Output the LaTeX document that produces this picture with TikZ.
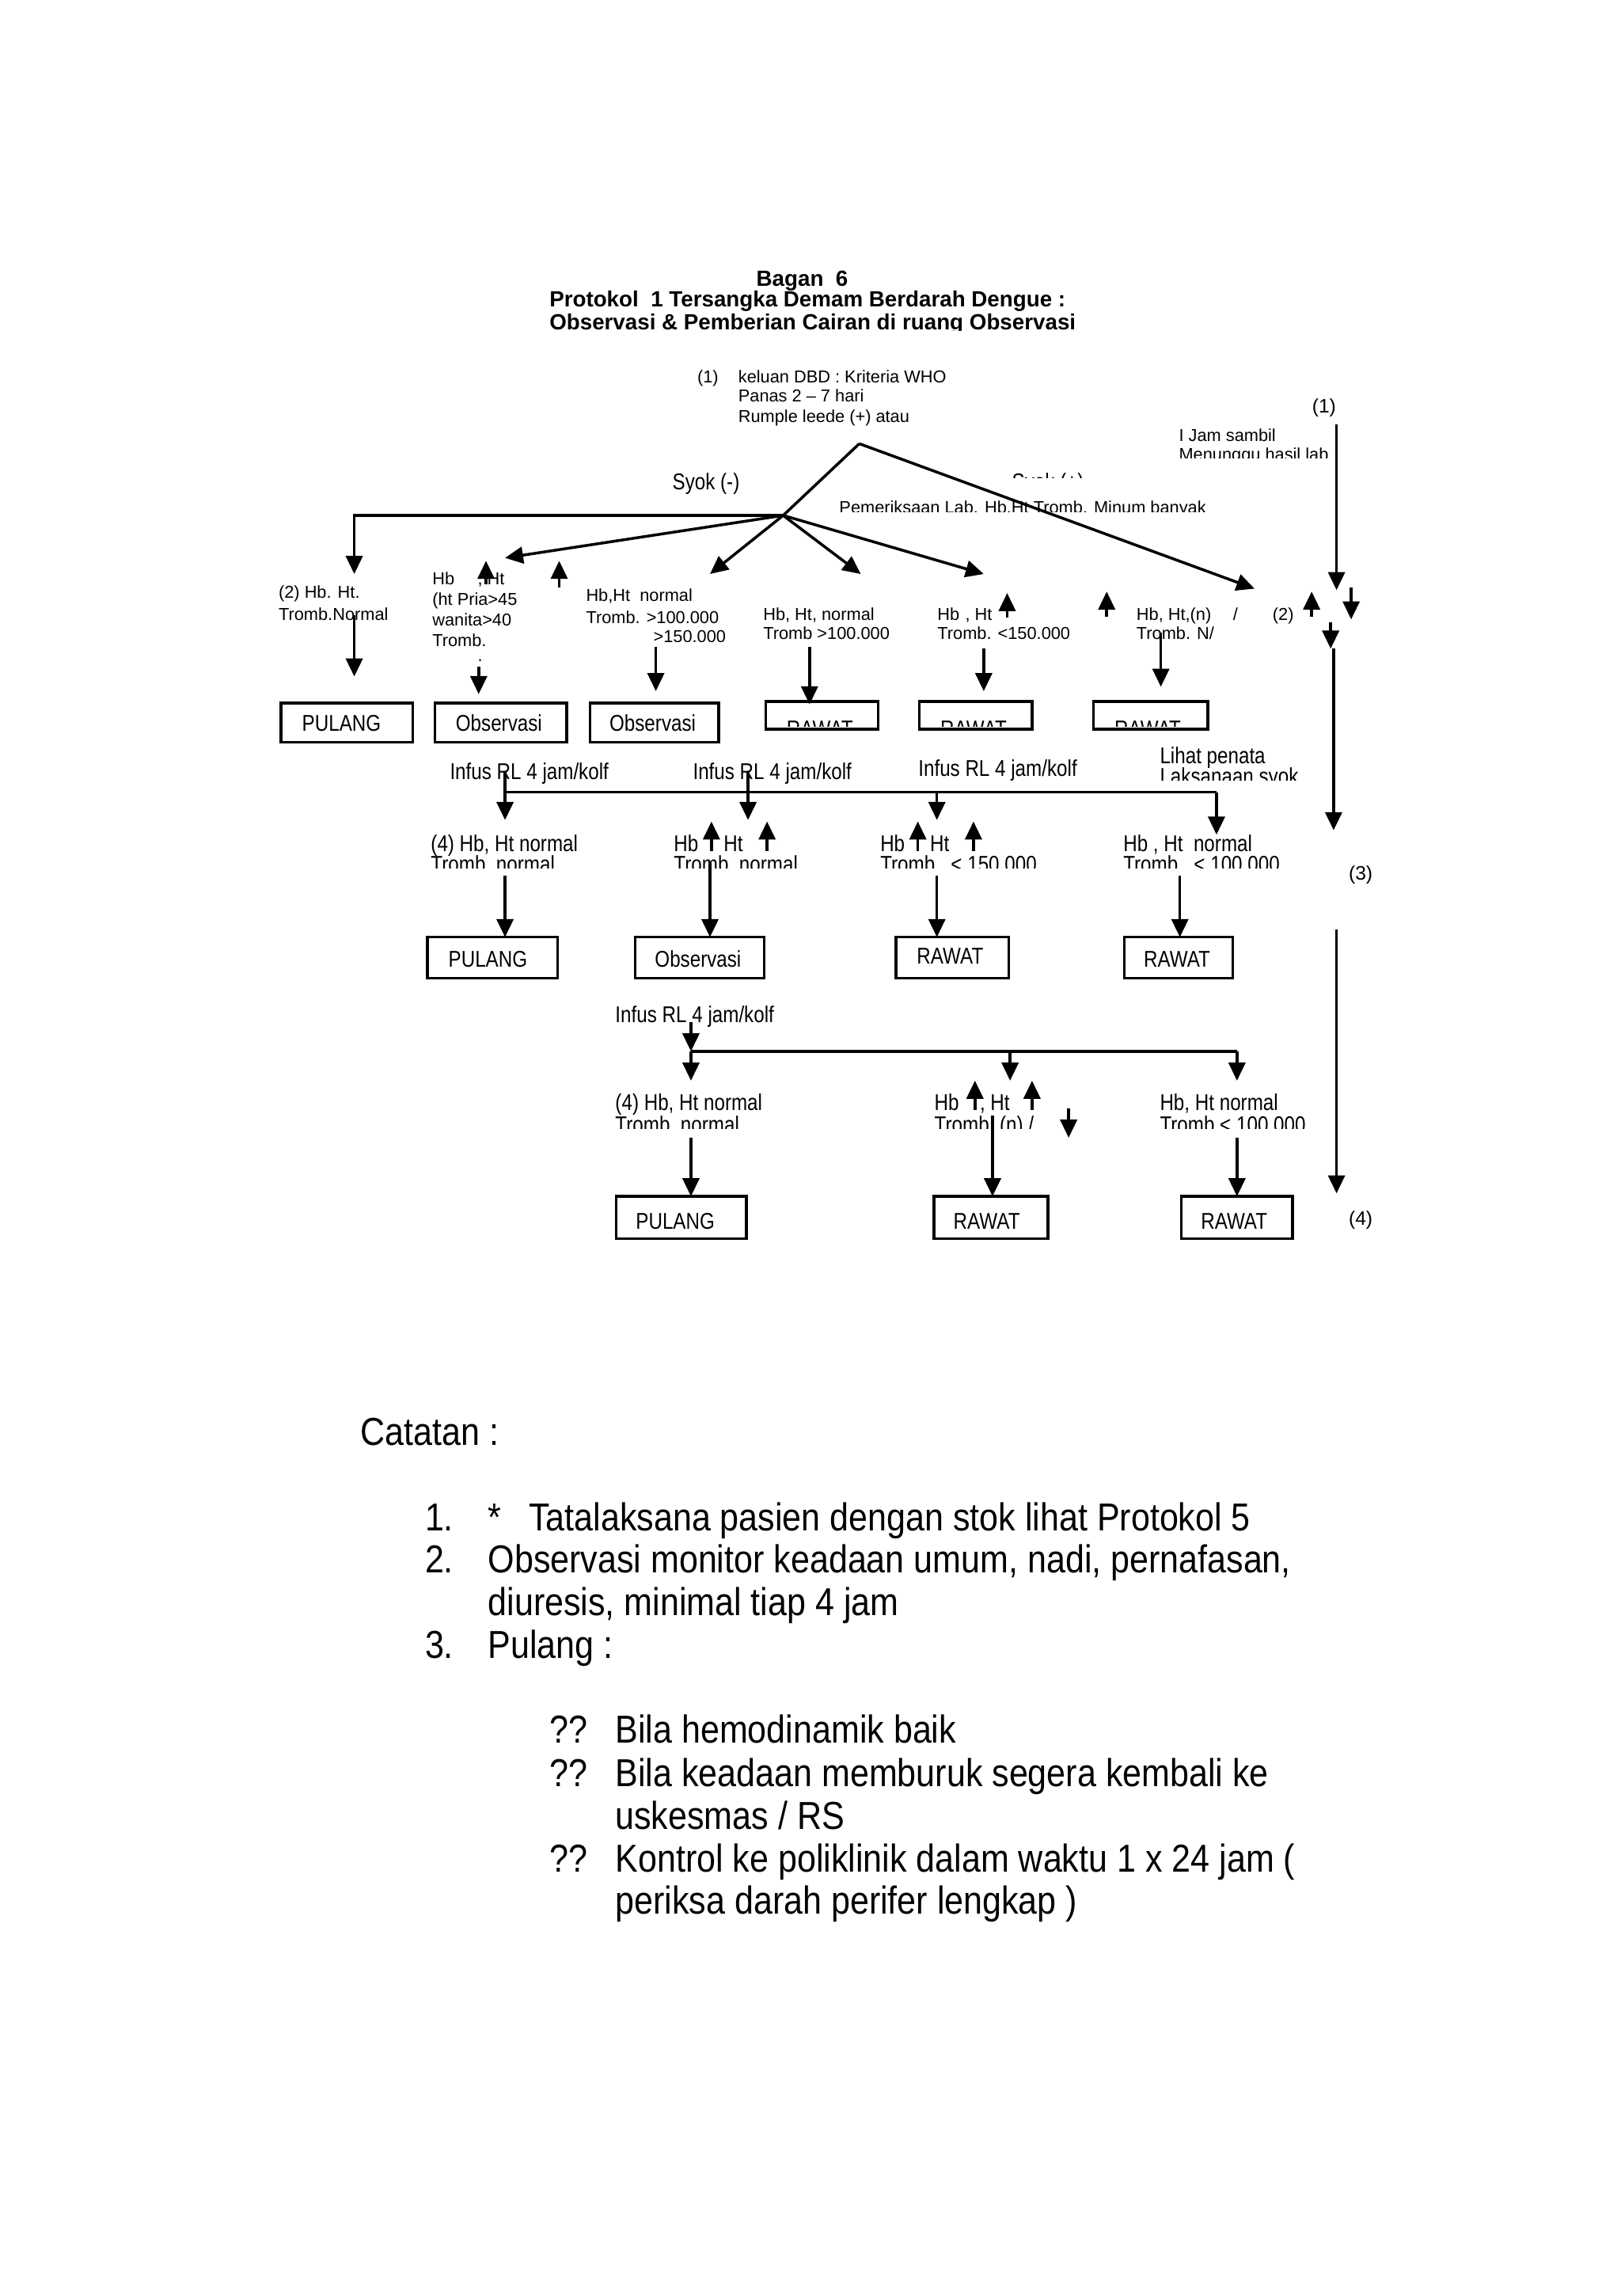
\documentclass[tikz,border=0pt]{standalone}
\usepackage{fontspec}
\setmainfont{Liberation Sans}
\newfontfamily\narrowf[FakeStretch=0.84]{Liberation Sans}
\newfontfamily\catf[FakeStretch=0.875]{Liberation Sans}
\usetikzlibrary{arrows.meta,fit}
\begin{document}
\begin{tikzpicture}[x=0.185mm,y=-0.185mm,
  ar/.style={-{Triangle[length=6.5pt,width=6pt]},line width=1pt},
  ln/.style={line width=1pt},
  bx/.style={draw,line width=1pt,inner sep=0pt},
  tt/.style={font=\bfseries\fontsize{7.9}{9}\selectfont,inner sep=0pt,yshift=-0.35mm,execute at begin node=\strut},
  sm/.style={font=\fontsize{6.2}{7}\selectfont,inner sep=0pt,anchor=west,yshift=-0.35mm,execute at begin node=\strut},
  sn/.style={font=\fontsize{7}{8}\selectfont,inner sep=0pt,anchor=west,yshift=-0.35mm,execute at begin node=\strut},
  md/.style={font=\narrowf\fontsize{8.2}{9}\selectfont,inner sep=0pt,anchor=west,yshift=-0.35mm,execute at begin node=\strut},
  ct/.style={font=\catf\fontsize{14}{16}\selectfont,inner sep=0pt,anchor=west,yshift=-0.4mm,execute at begin node=\strut}]
\useasboundingbox[fill=white] (0,0) rectangle (1107,1568);

% ---------- title ----------
\node[tt] (t1) at (548,190) {Bagan\ \ 6};
\node[tt,anchor=west] (t2) at (375,204) {Protokol\ \ 1 Tersangka Demam Berdarah Dengue :};
\begin{scope}
\clip (370,200) rectangle (740,225.5);
\node[tt,anchor=west] (t3) at (375,220) {Observasi \& Pemberian Cairan di ruang Observasi};
\end{scope}

% ---------- top criteria ----------
\node[sm] (n1) at (476,257) {(1)};
\node[sm] (k1) at (504,257) {keluan DBD : Kriteria WHO};
\node[sm] (k2) at (504,270) {Panas 2 – 7 hari};
\node[sm] (k3) at (504,284) {Rumple leede (+) atau};

\node[sn] (r1) at (896,277) {(1)};
\node[sm] (j1) at (805,297) {I Jam sambil};
\begin{scope}
\clip (800,290) rectangle (930,313);
\node[sm] (j2) at (805,310) {Menunggu hasil lab};
\end{scope}

\node[md] (sy1) at (459,329) {Syok (-)};
\begin{scope}
\clip (680,310) rectangle (770,326.5);
\node[md] (sy2) at (691,329) {Syok (+)};
\end{scope}
\begin{scope}
\clip (560,335) rectangle (830,349.5);
\node[sm] (pem) at (573,346) {Pemeriksaan Lab. Hb.Ht Tromb. Minum banyak};
\end{scope}

% ---------- main fan ----------
\coordinate (apex) at (587,303);
\coordinate (hub) at (535,352);
\draw[ln] (hub) -- (apex);
\draw[ar] (apex) -- (857,402);
\draw[ar] (hub) -- (242,352) -- (242,392);
\draw[ar] (hub) -- (345,381);
\draw[ar] (hub) -- (485,392);
\draw[ar] (hub) -- (588,392);
\draw[ar] (hub) -- (672,392);

% ---------- row 1 ----------
\node[sm] (a1) at (190,404) {(2) Hb. Ht.};
\node[sm] (a2) at (190,419) {Tromb.Normal};
\draw[ar] (242,420) -- (242,462);
\node[bx,fit={(192,480) (282,507)}] (b11) {};
\node[md] at (206,494) {PULANG};

\node[sm] (c1) at (295,395) {Hb};
\node[sm] (c1b) at (326,395) {, Ht};
\draw[ar] (332,399) -- (332,383);
\draw[ar] (382,401) -- (382,383);
\node[sm] (c2) at (295,409) {(ht Pria>45};
\node[sm] (c3) at (295,423) {wanita>40};
\node[sm] (c4) at (295,437) {Tromb.};
\node[sm] (c5) at (326,447) {.};
\draw[ar] (327,455) -- (327,474);
\node[bx,fit={(297,480) (387,507)}] (b12) {};
\node[md] at (311,494) {Observasi};

\node[sm] (d1) at (400,406) {Hb,Ht\ \ normal};
\node[sm] (d2) at (400,421) {Tromb. >100.000};
\begin{scope}
\clip (440,425) rectangle (500,438);
\node[sm] (d3) at (446,434) {>150.000};
\end{scope}
\draw[ar] (448,442) -- (448,472);
\node[bx,fit={(403,480) (491,507)}] (b13) {};
\node[md] at (416,494) {Observasi};

\node[sm] (e1) at (521,419) {Hb, Ht, normal};
\node[sm] (e2) at (521,432) {Tromb >100.000};
\node[bx,fit={(523,479) (600,498)}] (b14) {};
\begin{scope}
\clip (523,479) rectangle (600,496);
\node[md] at (537,498) {RAWAT};
\end{scope}
\draw[ar] (553,442) -- (553,481);

\node[sm] (f1) at (640,419) {Hb};
\node[sm] (f1b) at (659,419) {, Ht};
\draw[ar] (688,422) -- (688,405);
\node[sm] (f2) at (640,432) {Tromb. <150.000};
\draw[ar] (672,443) -- (672,472);
\node[bx,fit={(628,479) (705,498)}] (b15) {};
\begin{scope}
\clip (628,479) rectangle (705,496);
\node[md] at (642,498) {RAWAT};
\end{scope}

\draw[ar] (756,421) -- (756,404);
\node[sm] (g1) at (776,419) {Hb, Ht,(n)};
\node[sm] (g1b) at (842,419) {/};
\node[sm] (g2) at (776,432) {Tromb. N/};
\draw[ar] (793,432) -- (793,469);
\node[bx,fit={(747,479) (825,498)}] (b16) {};
\begin{scope}
\clip (747,479) rectangle (825,496);
\node[md] at (761,498) {RAWAT};
\end{scope}

\node[sm] (h1) at (869,419) {(2)};
\draw[ar] (896,421) -- (896,404);
\draw[ar] (923,401) -- (923,423);
\draw[ar] (913,290) -- (913,403);
\draw[ar] (909,425) -- (909,443);
\draw[ar] (911,443) -- (911,567);
\node[sn] (h3) at (921,596) {(3)};
\draw[ar] (913,635) -- (913,815);
\node[sn] (h4) at (921,832) {(4)};

% ---------- row 2 ----------
\node[md] (i1) at (307,527) {Infus RL 4 jam/kolf};
\node[md] (i2) at (473,527) {Infus RL 4 jam/kolf};
\node[md] (i3) at (627,525) {Infus RL 4 jam/kolf};
\node[md] (lp1) at (792,516) {Lihat penata};
\begin{scope}
\clip (780,520) rectangle (900,533);
\node[md] (lp2) at (792,530) {Laksanaan syok};
\end{scope}
\draw[ln] (345,541) -- (831,541);
\draw[ar] (345,527) -- (345,560);
\draw[ar] (511,527) -- (511,560);
\draw[ar] (640,541) -- (640,560);
\draw[ar] (831,541) -- (831,570);

\node[md] (m1) at (294,576) {(4) Hb, Ht normal};
\node[md] (m2) at (460,576) {Hb};
\node[md] (m2b) at (494,576) {Ht};
\draw[ar] (486,581) -- (486,561);
\draw[ar] (524,581) -- (524,561);
\node[md] (m3) at (601,576) {Hb};
\node[md] (m3b) at (635,576) {Ht};
\draw[ar] (627,581) -- (627,561);
\draw[ar] (665,581) -- (665,561);
\node[md] (m4) at (767,576) {Hb , Ht\ \ normal};
\begin{scope}
\clip (280,583) rectangle (900,593);
\node[md] (p1) at (294,590) {Tromb.\ normal};
\node[md] (p2) at (460,590) {Tromb.\ normal};
\node[md] (p3) at (601,590) {Tromb.\ \ < 150.000};
\node[md] (p4) at (767,590) {Tromb.\ \ < 100.000};
\end{scope}
\draw[ar] (345,598) -- (345,640);
\draw[ar] (485,588) -- (485,640);
\draw[ar] (640,598) -- (640,640);
\draw[ar] (806,598) -- (806,640);
\node[bx,fit={(292,640) (381,668)}] (b21) {};
\node[md] at (306,655) {PULANG};
\node[bx,fit={(434,640) (522,668)}] (b22) {};
\node[md] at (447,655) {Observasi};
\node[bx,fit={(612,640) (689,668)}] (b23) {};
\node[md] at (626,653) {RAWAT};
\node[bx,fit={(768,640) (842,668)}] (b24) {};
\node[md] at (781,655) {RAWAT};

% ---------- row 3 ----------
\node[md] (i4) at (420,693) {Infus RL 4 jam/kolf};
\draw[ar] (472,698) -- (472,718);
\draw[ln] (472,718) -- (845,718);
\draw[ar] (472,718) -- (472,738);
\draw[ar] (690,718) -- (690,738);
\draw[ar] (845,718) -- (845,738);

\node[md] (q1) at (420,753) {(4) Hb, Ht normal};
\node[md] (q2) at (638,753) {Hb};
\node[md] (q2b) at (669,753) {, Ht};
\draw[ar] (666,758) -- (666,738);
\draw[ar] (705,758) -- (705,738);
\draw[ar] (730,757) -- (730,777);
\node[md] (q3) at (792,753) {Hb, Ht normal};
\begin{scope}
\clip (410,760) rectangle (910,771);
\node[md] (s1) at (420,768) {Tromb.\ normal};
\node[md] (s2) at (638,768) {Tromb.\ (n) /};
\node[md] (s3) at (792,768) {Tromb < 100.000};
\end{scope}
\draw[ar] (472,777) -- (472,817);
\draw[ar] (678,762) -- (678,817);
\draw[ar] (845,777) -- (845,817);
\node[bx,fit={(421,817) (510,846)}] (b31) {};
\node[md] at (434,834) {PULANG};
\node[bx,fit={(638,817) (716,846)}] (b32) {};
\node[md] at (651,834) {RAWAT};
\node[bx,fit={(807,817) (883,846)}] (b33) {};
\node[md] at (820,834) {RAWAT};

% ---------- Catatan ----------
\node[ct] (cat) at (246,979) {Catatan :};
\node[ct] (l1) at (290,1037) {1.};
\node[ct] (l1s) at (333,1037) {*};
\node[ct] (l1t) at (361,1037) {Tatalaksana pasien dengan stok lihat Protokol 5};
\node[ct] (l2) at (290,1066) {2.};
\node[ct] (l2t) at (333,1066) {Observasi monitor keadaan umum, nadi, pernafasan,};
\node[ct] (l2u) at (333,1095) {diuresis, minimal tiap 4 jam};
\node[ct] (l3) at (290,1124) {3.};
\node[ct] (l3t) at (333,1124) {Pulang :};
\node[ct] (u1) at (375,1182) {??};
\node[ct] (u1t) at (420,1182) {Bila hemodinamik baik};
\node[ct] (u2) at (375,1212) {??};
\node[ct] (u2t) at (420,1212) {Bila keadaan memburuk segera kembali ke};
\node[ct] (u2u) at (420,1241) {uskesmas / RS};
\node[ct] (u3) at (375,1270) {??};
\node[ct] (u3t) at (420,1270) {Kontrol ke poliklinik dalam waktu 1 x 24 jam (};
\node[ct] (u3u) at (420,1299) {periksa darah perifer lengkap )};
\end{tikzpicture}
\end{document}
